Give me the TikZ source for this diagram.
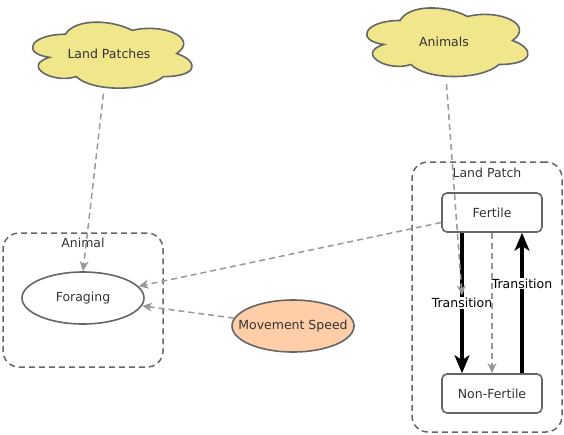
\documentclass[tikz,border=0pt]{standalone}
\usepackage{fontspec}
\setmainfont{DejaVu Sans}
\usetikzlibrary{shapes.geometric,arrows.meta}
\definecolor{edge}{HTML}{666666}
\definecolor{txt}{HTML}{333333}
\definecolor{khaki}{HTML}{F0E68C}
\definecolor{peach}{HTML}{FFCEA8}
\definecolor{grayline}{HTML}{999999}
\tikzset{cloudpic/.pic={
    \draw[draw=edge, line width=1.6pt, fill=khaki] (0.25,0.25) .. controls (0.05,0.25) and (0,0.5) .. (0.16,0.55)
      .. controls (0,0.66) and (0.18,0.9) .. (0.31,0.8) .. controls (0.4,1) and (0.7,1) .. (0.8,0.8)
      .. controls (1,0.8) and (1,0.6) .. (0.875,0.5) .. controls (1,0.3) and (0.8,0.1) .. (0.625,0.2)
      .. controls (0.5,0.05) and (0.3,0.05) .. (0.25,0.25) -- cycle;
  }}
\begin{document}
\begin{tikzpicture}[x=1pt,y=1pt,
    every node/.style={font=\fontsize{12.5}{14}\selectfont, text=txt},
    cloudtext/.style={inner sep=0pt, minimum width=158pt, minimum height=70pt},
    groupbox/.style={draw=edge, line width=1.5pt, dash pattern=on 6pt off 4pt, rounded corners=16pt},
    statebox/.style={draw=edge, line width=1.6pt, rounded corners=5pt, fill=white, minimum width=100pt, minimum height=39pt},
    oval/.style={ellipse, draw=edge, line width=1.6pt, inner sep=0pt, minimum width=122pt, minimum height=52pt},
    dasharrow/.style={draw=grayline, line width=1.5pt, dash pattern=on 6pt off 4pt, -{Stealth[length=10pt,width=9pt,inset=3pt]}},
    thickarrow/.style={draw=black, line width=3.5pt, -{Stealth[length=18pt,width=15pt,inset=5pt]}},
    lbl/.style={fill=white, inner sep=1pt, text=black}]
                      \useasboundingbox (0,0) rectangle (564,-434);
                      \node[groupbox, minimum width=160pt, minimum height=134pt] (animalgroup) at (83,-300) {};
                      \node (animallabel) at (83,-243) {Animal};
                      \node[groupbox, minimum width=150pt, minimum height=270pt] (patchgroup) at (487,-297) {};
                      \node (patchlabel) at (487,-173) {Land Patch};
                      \pic[x=178pt, y=-77pt] at (21pt,-15pt) {cloudpic};
                      \node[cloudtext] (landpatches) at (109,-53.5) {Land Patches};
                      \pic[x=180pt, y=-80pt] at (355pt,-0.5pt) {cloudpic};
                      \node[cloudtext] (animals) at (444,-42) {Animals};
                      \node[oval] (foraging) at (83,-298) {\makebox[0pt]{Foraging}};
                      \node[oval, fill=peach] (movespeed) at (293,-326) {\makebox[0pt]{Movement Speed}};
                      \node[statebox] (fertile) at (492,-212.5) {Fertile};
                      \node[statebox] (nonfertile) at (492,-393.5) {Non-Fertile};
                      \draw[thickarrow] ([xshift=-30pt]fertile.south) -- node[lbl] (tdown) {Transition} ([xshift=-30pt]nonfertile.north);
                      \draw[thickarrow] ([xshift=30pt]nonfertile.north) -- node[lbl, pos=0.64] (tup) {Transition} ([xshift=30pt]fertile.south);
                      \draw[dasharrow] (fertile.south) -- (nonfertile.north);
                      \draw[dasharrow, shorten <=5pt] ([xshift=-5pt]landpatches.south) -- (foraging.north);
                      \draw[dasharrow, shorten <=7pt] ([xshift=2pt]animals.south) -- (tdown.north);
                      \draw[dasharrow] ([yshift=-10pt]fertile.west) -- (foraging);
                      \draw[dasharrow] (movespeed) -- (foraging);
                  \end{tikzpicture}
\end{document}
